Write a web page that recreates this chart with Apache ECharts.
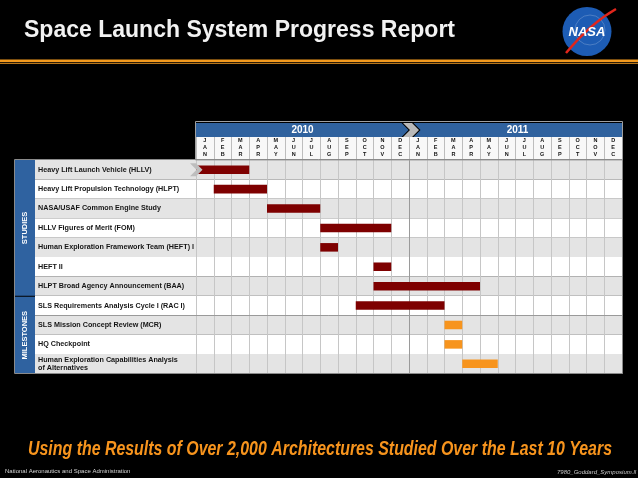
<!DOCTYPE html>
<html><head><meta charset="utf-8">
<script src="https://cdn.jsdelivr.net/npm/echarts@6/dist/echarts.min.js"></script>
<style>html,body{margin:0;padding:0;background:#000;}#c{width:638px;height:478px;}</style>
</head><body><div id="c"></div><script>
// ---------- data ----------
const activities = [
  'Heavy Lift Launch Vehicle (HLLV)',
  'Heavy Lift Propulsion Technology (HLPT)',
  'NASA/USAF Common Engine Study',
  'HLLV Figures of Merit (FOM)',
  'Human Exploration Framework Team (HEFT) I',
  'HEFT II',
  'HLPT Broad Agency Announcement (BAA)',
  'SLS Requirements Analysis Cycle I (RAC I)',
  'SLS Mission Concept Review (MCR)',
  'HQ Checkpoint',
  'Human Exploration Capabilities Analysis\nof Alternatives'
];
// months counted from Jan 2010 (0) to end of Dec 2011 (24)
const startMonth = [0, 1, 4, 7, 7, 10, 10, 9, 14, 14, 15];
const endMonth   = [3, 4, 7, 11, 8, 11, 16, 14, 15, 15, 17];
const activityKind = ['study','study','study','study','study','study','study','study','milestone','milestone','milestone'];
const continuesFromBefore = [true, false, false, false, false, false, false, false, false, false, false];
const years = ['2010', '2011'];
const monthCodes = ['JAN','FEB','MAR','APR','MAY','JUN','JUL','AUG','SEP','OCT','NOV','DEC'];
const sectionNames = ['STUDIES', 'MILESTONES'];
const sectionFirstRow = [0, 7];
const sectionLastRow = [6, 10];
const dividerBelowRow = [7];

const titleText = 'Space Launch System Progress Report';
const taglineText = 'Using the Results of Over 2,000 Architectures Studied Over the Last 10 Years';
const footerLeft = 'National Aeronautics and Space Administration';
const footerRight = '7980_Goddard_Symposium.ll';

// ---------- helpers ----------
const FONT = "'Liberation Sans', Arial, Helvetica, sans-serif";
const NARROW = "'Liberation Sans Narrow', 'Arial Narrow', 'Liberation Sans', sans-serif";
function measure(text, font) {
  const ctx = document.createElement('canvas').getContext('2d');
  ctx.font = font;
  return ctx.measureText(text).width;
}
const GRID_L = 196, GRID_R = 622, GRID_T = 160, GRID_B = 373.5;
const LABEL_L = 35, STRIP_L = 15;
const HEADER_T = 123, HEADER_M = 137;

const monthLabels = years.flatMap(() => monthCodes);
const lineCount = monthLabels.length + 1;
const splitColors = Array.from({length: lineCount}, (_, i) => (i % 12 === 0 && i > 0 && i < lineCount - 1) ? '#9a9a9a' : '#c6c6c6');

const titleScale = 431 / measure(titleText, 'bold 23px ' + FONT);
const tagScale = 584 / measure(taglineText, 'italic bold 21px ' + NARROW);

const chart = echarts.init(document.getElementById('c'), null, {renderer: 'canvas'});

function renderRowBand(params, api) {
  const row = api.value(1);
  const c = api.coord([0, row]);
  const h = api.size([0, 1])[1];
  return {type: 'rect', shape: {x: LABEL_L, y: c[1] - h / 2, width: c[0] - LABEL_L, height: h},
    style: {fill: row % 2 === 0 ? '#e4e4e4' : '#ffffff'}};
}
function renderSection(params, api) {
  const h = api.size([0, 1])[1];
  const top = api.coord([0, api.value(1)])[1] - h / 2;
  const bot = api.coord([0, api.value(2)])[1] + h / 2;
  const first = params.dataIndex === 0;
  const y0 = first ? top : top + 1;
  return {type: 'group', children: [
    {type: 'rect', shape: {x: STRIP_L, y: y0, width: LABEL_L - STRIP_L, height: bot - y0}, style: {fill: '#2f62a0'}},
    {type: 'text', x: (STRIP_L + LABEL_L) / 2, y: (y0 + bot) / 2, rotation: Math.PI / 2,
      style: {text: sectionNames[params.dataIndex], fill: '#fff', font: 'bold 7.5px ' + FONT, align: 'center', verticalAlign: 'middle'}}
  ]};
}
function renderDivider(params, api) {
  const row = api.value(1);
  const h = api.size([0, 1])[1];
  const y = Math.round(api.coord([0, row])[1] + h / 2) + 0.5;
  return {type: 'line', shape: {x1: LABEL_L, y1: y, x2: GRID_R, y2: y}, style: {stroke: '#9a9a9a', lineWidth: 1}};
}
function renderBar(params, api) {
  const row = api.value(2);
  const p0 = api.coord([api.value(0), row]);
  const p1 = api.coord([api.value(1), row]);
  const h = api.size([0, 1])[1] * 0.44;
  const i = params.dataIndex;
  const children = [{type: 'rect', shape: {x: p0[0], y: p0[1] - h / 2, width: p1[0] - p0[0], height: h},
    style: {fill: activityKind[i] === 'study' ? '#7e0000' : '#f7941d'}}];
  if (continuesFromBefore[i]) {
    const x = p0[0], y = p0[1];
    children.push({type: 'polygon', shape: {points: [[x - 6, y - 6.5], [x, y - 6.5], [x + 6.5, y], [x, y + 6.5], [x - 6, y + 6.5], [x + 0.5, y]]},
      style: {fill: '#bdbdbd'}});
  }
  return {type: 'group', children};
}
function renderYear(params, api) {
  const i = params.dataIndex;
  const x0 = api.coord([api.value(0), 0])[0];
  const x1 = api.coord([api.value(1), 0])[0];
  const t = HEADER_T, b = HEADER_M, m = (t + b) / 2;
  const last = i === years.length - 1;
  const pts = [];
  if (i === 0) { pts.push([x0, t]); } else { pts.push([x0 + 4.5, t]); }
  if (last) { pts.push([x1, t], [x1, b]); } else { pts.push([x1 - 7.5, t], [x1 - 0.5, m], [x1 - 7.5, b]); }
  if (i === 0) { pts.push([x0, b]); } else { pts.push([x0 + 4.5, b], [x0 + 11.5, m]); }
  const children = [
    {type: 'polygon', shape: {points: pts}, style: {fill: '#30629e'}},
    {type: 'text', x: (x0 + x1) / 2 + (i === 0 ? 0 : 2), y: m + 0.5,
      style: {text: years[i], fill: '#fff', font: 'bold 10px ' + FONT, align: 'center', verticalAlign: 'middle'}}
  ];
  if (!last) {
    children.push({type: 'polygon', shape: {points: [[x1 - 6, t], [x1 + 3, t], [x1 + 10, m], [x1 + 3, b], [x1 - 6, b], [x1 + 1, m]]},
      style: {fill: '#b9b9b9'}});
  }
  return {type: 'group', children};
}

const option = {
  backgroundColor: '#000',
  animation: false,
  grid: {left: GRID_L, right: 638 - GRID_R, top: GRID_T, bottom: 478 - GRID_B, containLabel: false},
  xAxis: [
    {type: 'value', min: 0, max: 24, interval: 1, position: 'bottom',
      axisLabel: {show: false}, axisLine: {show: false}, axisTick: {show: false},
      splitLine: {show: true, lineStyle: {color: splitColors, width: 1}}},
    {type: 'category', data: monthLabels, position: 'top', boundaryGap: true,
      axisLine: {show: false},
      axisTick: {show: true, length: 23, interval: 0, lineStyle: {color: '#bdbdbd'}},
      axisLabel: {interval: 0, margin: 2.5, fontSize: 5.5, fontWeight: 'bold', color: '#111', fontFamily: FONT, lineHeight: 7,
        formatter: v => v.split('').join('\n')}}
  ],
  yAxis: {
    type: 'category', data: activities, inverse: true,
    axisLine: {show: false}, axisTick: {show: false},
    splitLine: {show: false},
    splitArea: {show: true, areaStyle: {color: ['#e4e4e4', '#ffffff']}},
    axisLabel: {align: 'left', margin: GRID_L - 38, fontSize: 7.2, fontWeight: 'bold', color: '#151515', fontFamily: FONT, lineHeight: 8.2}
  },
  graphic: [
    {type: 'text', left: 24, top: 19, scaleX: titleScale, style: {text: titleText, fill: '#f2f2f2', font: 'bold 23px ' + FONT}},
    {type: 'rect', shape: {x: 0, y: 59.5, width: 638, height: 2.5}, style: {fill: '#f39a1e'}},
    {type: 'rect', shape: {x: 0, y: 62.8, width: 638, height: 1.2}, style: {fill: '#b8761a'}},
    // NASA insignia
    {type: 'circle', shape: {cx: 587, cy: 31.5, r: 24.5}, style: {fill: '#1d5cb4'}},
    {type: 'circle', shape: {cx: 590, cy: 30, r: 15}, style: {fill: 'none', stroke: 'rgba(255,255,255,0.35)', lineWidth: 0.6}},
    {type: 'bezierCurve', shape: {x1: 566, y1: 53, x2: 616, y2: 9, cpx1: 585, cpy1: 30, cpx2: 600, cpy2: 18}, style: {stroke: '#e1261c', lineWidth: 2.5, fill: 'none'}},
    {type: 'text', x: 587, y: 32, style: {text: 'NASA', fill: '#fff', font: 'italic bold 13px ' + FONT, align: 'center', verticalAlign: 'middle'}},
    // header background + frames
    {type: 'rect', z: -5, shape: {x: GRID_L, y: HEADER_M, width: GRID_R - GRID_L, height: GRID_T - HEADER_M}, style: {fill: '#f8f8f8'}},
    {type: 'rect', z: 50, shape: {x: 195.5, y: 121.5, width: GRID_R - 195, height: GRID_T - 121.5}, style: {fill: 'none', stroke: '#a0a0a0', lineWidth: 1}},
    {type: 'rect', z: 50, shape: {x: 14.5, y: 159.5, width: GRID_R - 14, height: GRID_B - 159.5}, style: {fill: 'none', stroke: '#8a8a8a', lineWidth: 1}},
    // footer
    {type: 'text', left: 320 - 292, top: 439, scaleX: tagScale, style: {text: taglineText, fill: '#f7941d', font: 'italic bold 21px ' + NARROW}},
    {type: 'text', left: 5, top: 468, style: {text: footerLeft, fill: '#d5d5d5', font: '6px ' + FONT}},
    {type: 'text', left: 557, top: 469, style: {text: footerRight, fill: '#c8c8c8', font: 'italic 6px ' + FONT}}
  ],
  series: [
    {type: 'custom', name: 'labelBands', clip: false, z: -2, xAxisIndex: 0,
      encode: {x: 0, y: 1}, data: activities.map((_, i) => [0, i]), renderItem: renderRowBand},
    {type: 'custom', name: 'sections', clip: false, z: 3, xAxisIndex: 0,
      encode: {x: 0, y: [1, 2]}, data: sectionNames.map((_, i) => [0, sectionFirstRow[i], sectionLastRow[i]]), renderItem: renderSection},
    {type: 'custom', name: 'dividers', clip: false, z: 2, xAxisIndex: 0,
      encode: {x: 0, y: 1}, data: dividerBelowRow.map(r => [0, r]), renderItem: renderDivider},
    {type: 'custom', name: 'years', clip: false, z: 3, xAxisIndex: 0,
      encode: {x: [0, 1], y: 2}, data: years.map((_, i) => [i * 12, (i + 1) * 12, 0]), renderItem: renderYear},
    {type: 'custom', name: 'activities', clip: false, z: 4, xAxisIndex: 0,
      encode: {x: [0, 1], y: 2}, data: activities.map((_, i) => [startMonth[i], endMonth[i], i]), renderItem: renderBar}
  ]
};
chart.setOption(option);
</script></body></html>
